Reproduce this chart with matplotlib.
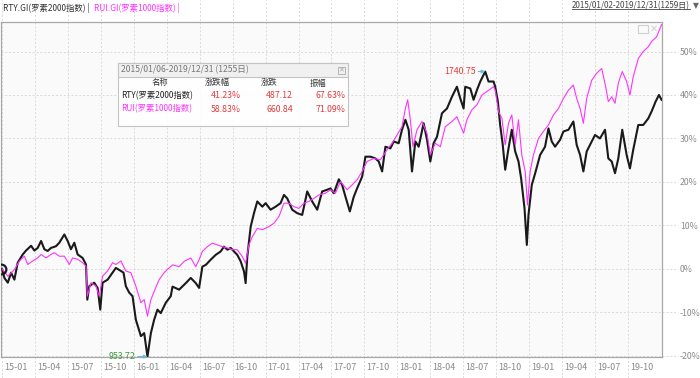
import numpy as np
import matplotlib.pyplot as plt
import matplotlib.transforms as mtransforms
from matplotlib.patches import Rectangle
from matplotlib.lines import Line2D

plt.rcParams['font.family'] = ['Noto Sans CJK SC', 'DejaVu Sans']

# x = months since 2015-01, y = % change since first close
rty_t = [0.00, 0.21, 0.52, 0.82, 1.12, 1.42, 1.88, 2.18, 2.64, 2.94,
         3.24, 3.55, 3.85, 4.15, 4.45, 4.91, 5.21, 5.67, 5.97, 6.27,
         6.58, 6.88, 7.33, 7.64, 7.76, 7.94, 8.39, 8.70, 8.94, 9.15,
         9.61, 10.06, 10.36, 10.82, 11.06, 11.27, 11.58, 11.88, 12.18, 12.64,
         12.94, 13.24, 13.55, 13.85, 14.15, 14.45, 14.91, 15.36,
         15.52, 16.12, 16.73, 17.18, 17.64, 17.94, 18.24, 18.55, 19.00, 19.45,
         19.91, 20.21, 20.52, 20.82, 21.12, 21.42, 21.73, 22.03, 22.18, 22.33,
         22.64, 22.94, 23.24, 23.70, 24.00, 24.45, 24.91, 25.36, 25.67, 25.97,
         26.42, 26.88, 27.33, 27.79, 28.24, 28.70, 29.15, 29.61,
         29.91, 30.21, 30.67, 30.97, 31.27, 31.67, 32.03, 32.33, 32.79, 33.09,
         33.55, 34.00, 34.30, 34.61, 34.91, 35.36, 35.67, 36.12, 36.42, 36.73,
         37.03, 37.33, 37.64, 37.94, 38.39, 38.70, 39.00, 39.30, 39.61, 40.06,
         40.52, 40.97, 41.42, 41.73, 42.03, 42.18, 42.64, 42.94, 43.24, 43.55,
         44.00, 44.30, 44.76,
         44.91, 45.15, 45.36, 45.58, 45.82, 46.12, 46.42, 46.73, 47.03, 47.27,
         47.58, 47.79, 47.94, 48.24, 48.55, 49.00, 49.45, 49.76, 50.06, 50.36,
         50.82, 51.12, 51.58, 52.03, 52.33, 52.64, 52.94, 53.24, 53.70, 54.00,
         54.45, 54.91, 55.21, 55.52, 55.82, 56.12, 56.48, 56.88, 57.18, 57.48,
         57.94, 58.39, 58.85, 59.15, 59.52, 59.82, 60.06]
rty_pct = [0.0, -2.1, -3.2, -0.9, -2.5, 1.4, 3.3, 4.2, 5.3, 4.2,
           4.8, 6.4, 4.5, 4.1, 4.8, 5.2, 6.0, 7.9, 6.4, 4.5,
           6.0, 3.3, 2.5, 1.0, -7.1, -4.0, -3.2, -4.4, -9.4, -3.2,
           -2.5, -0.9, 0.2, -0.5, -0.9, -4.0, -5.5, -6.3, -11.7, -15.5,
           -14.8, -20.2, -14.8, -11.7, -9.4, -10.2, -7.8, -6.3,
           -4.1, -4.8, -3.3, -2.1, -3.3, -4.4, 0.5, 0.9, 2.1, 3.2,
           4.0, 5.1, 4.4, 4.8, 4.0, 3.2, 1.7, -0.6, -3.3, 2.8,
           9.7, 12.8, 15.5, 14.3, 15.1, 13.6, 14.3, 15.1, 17.0, 16.2,
           13.6, 12.8, 12.4, 17.8, 15.5, 13.6, 17.8, 18.2,
           18.5, 17.4, 20.6, 19.3, 16.6, 13.2, 16.6, 18.5, 21.2, 25.8,
           25.8, 25.4, 24.7, 22.4, 28.1, 27.7, 29.3, 28.9, 32.0, 34.3,
           32.0, 22.4, 29.3, 28.1, 33.5, 29.7, 24.7, 28.9, 30.4, 35.8,
           36.9, 39.6, 41.9, 39.2, 36.9, 41.9, 41.5, 38.9, 41.1, 43.1,
           45.4, 43.1, 43.1,
           41.9, 38.5, 33.1, 28.9, 22.8, 27.7, 32.0, 27.0, 24.7, 20.8,
           13.9, 5.5, 12.4, 19.3, 22.0, 26.2, 28.1, 32.3, 29.3, 28.1,
           29.7, 31.6, 32.0, 33.9, 28.5, 26.2, 22.4, 27.0, 29.3, 30.8,
           30.0, 32.0, 25.4, 24.7, 22.0, 25.4, 32.0, 26.2, 23.1, 27.4,
           33.1, 33.1, 34.6, 36.2, 38.5, 40.0, 38.9]

rui_t = [0.00, 0.52, 1.12, 1.58, 2.03, 2.33, 2.79, 3.24, 3.55, 4.00,
         4.45, 4.76, 5.21, 5.67, 6.12, 6.42, 6.88, 7.33, 7.64, 7.76,
         8.09, 8.55, 8.85, 9.15, 9.61, 10.06, 10.36, 10.82, 11.27, 11.73,
         12.18, 12.64, 12.94, 13.24, 13.55, 13.85, 14.30, 14.76, 15.21,
         15.52, 16.12, 16.58, 17.18, 17.64, 17.94, 18.24, 18.70, 19.15, 19.61,
         20.06, 20.52, 20.97, 21.42, 21.88, 22.18, 22.48, 22.79, 23.24, 23.70,
         24.30, 24.76, 25.21, 25.67, 26.12, 26.58, 27.03, 27.48, 27.94, 28.39,
         28.85, 29.45,
         29.91, 30.36, 30.82, 31.42, 31.88, 32.33, 32.79, 33.24, 33.85, 34.45,
         35.06, 35.52, 35.97, 36.42, 36.73, 36.94, 37.18, 37.42, 37.79, 38.24,
         38.70, 39.00, 39.45, 39.91, 40.36, 40.97, 41.42, 42.03, 42.33, 42.79,
         43.24, 43.70, 44.15, 44.76,
         44.91, 45.21, 45.52, 45.82, 46.12, 46.42, 46.73, 47.03, 47.33, 47.64,
         47.85, 48.09, 48.39, 48.85, 49.30, 49.76, 50.21, 50.67, 51.12, 51.58,
         52.03, 52.33, 52.64, 52.94, 53.24, 53.70, 54.15, 54.61, 54.97, 55.21,
         55.52, 55.82, 56.12, 56.48, 56.88, 57.18, 57.48, 57.94, 58.39, 58.85,
         59.15, 59.61, 59.91, 60.06]
rui_pct = [0.0, -1.7, -0.2, 1.8, 2.9, 1.0, 1.8, 2.5, 3.3, 2.5,
           3.3, 3.7, 2.9, 2.9, 1.0, 2.5, 2.2, 1.4, 0.6, -6.3,
           -3.2, -4.0, -6.3, -1.7, -0.5, 1.4, 1.0, 1.8, -0.5, -0.9,
           -4.0, -7.8, -7.1, -10.9, -7.1, -5.2, -2.5, -0.9, 0.2,
           0.9, 0.5, 1.7, 2.5, 0.5, 2.1, 4.0, 5.1, 5.9, 5.5,
           5.1, 4.8, 4.4, 4.4, 2.8, 1.3, 5.5, 7.4, 9.3, 9.0,
           9.7, 10.5, 12.0, 15.1, 15.1, 14.3, 13.9, 15.1, 15.5, 16.2,
           17.0, 17.4,
           18.2, 17.4, 20.1, 18.2, 19.3, 20.5, 22.4, 24.7, 25.4, 25.1,
           27.4, 28.9, 30.8, 32.7, 36.9, 38.9, 34.3, 28.1, 32.0, 33.9,
           31.2, 26.2, 28.9, 28.1, 32.7, 33.9, 35.0, 31.2, 34.3, 36.6,
           37.7, 40.0, 40.8, 41.9,
           41.1, 36.2, 34.6, 28.5, 33.5, 35.4, 28.5, 34.3, 26.2, 22.4,
           14.7, 22.4, 26.2, 30.0, 31.6, 33.1, 35.4, 36.9, 39.2, 41.1,
           42.3, 39.2, 36.9, 33.5, 39.2, 43.4, 45.0, 46.1, 41.9, 38.5,
           39.6, 38.1, 42.7, 45.4, 43.1, 40.0, 44.2, 48.4, 50.0, 51.1,
           52.3, 53.4, 55.3, 56.2]

tick_months = [0, 3, 6, 9, 12, 15, 18, 21, 24, 27, 30, 33, 36, 39, 42, 45, 48, 51, 54, 57]
tick_labels = ['15-01', '15-04', '15-07', '15-10', '16-01', '16-04', '16-07', '16-10',
               '17-01', '17-04', '17-07', '17-10', '18-01', '18-04', '18-07', '18-10',
               '19-01', '19-04', '19-07', '19-10']
pct_ticks = [-20, -10, 0, 10, 20, 30, 40, 50]

rty_high, rty_low = '1740.75', '953.72'
table_period = '2015/01/06-2019/12/31 (1255日)'
table_cols = ['名称', '涨跌幅', '涨跌', '振幅']
table_rows = [['RTY(罗素2000指数)', '41.23%', '487.12', '67.63%'],
              ['RUI(罗素1000指数)', '58.83%', '660.84', '71.09%']]

W, H = 700, 378
fig = plt.figure(figsize=(7, 3.78), dpi=100)


def fx(x):
    return x / W


def fy(y):
    return 1 - y / H


ax = fig.add_axes([fx(1), fy(357), 661 / W, 335 / H])
ax.set_facecolor('#fafafa')
ax.set_xlim(-0.1, 60.1)
ax.set_ylim(-20.3, 56.8)

grid_kw = dict(color='#d9d9d9', lw=0.7, ls=(0, (2, 2)), zorder=0, clip_on=False)
for m in tick_months:
    ax.axvline(m, ymin=-21 / 335, ymax=1 + 22 / 335, **grid_kw)
for p in pct_ticks:
    ax.axhline(p, xmin=0, xmax=1 + 16 / 661, **grid_kw)

ax.plot(rty_t, rty_pct, color='#1a1a1a', lw=1.5, zorder=3)
ax.plot(rui_t, rui_pct, color='#ff33ff', lw=0.8, zorder=4)
ax.plot(-0.1, 0, 'o', mfc='none', mec='#1a1a1a', mew=1.6, ms=7, zorder=5)

ax.set_xticks(tick_months, tick_labels)
ax.tick_params(axis='x', length=0, pad=4, labelsize=6.5, labelcolor='#8a8a8a')
shift = mtransforms.ScaledTranslation(2 / 100, 0, fig.dpi_scale_trans)
for lab in ax.get_xticklabels():
    lab.set_ha('left')
    lab.set_transform(lab.get_transform() + shift)

ax.yaxis.tick_right()
ax.set_yticks(pct_ticks, [f'{p}%' for p in pct_ticks])
ax.tick_params(axis='y', length=0, pad=13, labelsize=6.3, labelcolor='#8a8a8a')
for s in ax.spines.values():
    s.set_color('#a8a8a8')
    s.set_linewidth(0.9)

# high / low marks
imax = int(np.argmax(rty_pct))
imin = int(np.argmin(rty_pct))
arrow = dict(arrowstyle='-|>', color='#5bc0de', lw=0.8, shrinkA=0, shrinkB=0,
             mutation_scale=5)
ax.annotate(rty_high, xy=(rty_t[imax], rty_pct[imax]), xytext=(-7, 0),
            textcoords='offset points', ha='right', va='center', fontsize=6.3,
            color='#e03c3c', arrowprops=arrow, annotation_clip=False, zorder=6)
ax.annotate(rty_low, xy=(rty_t[imin], rty_pct[imin]), xytext=(-9, 0),
            textcoords='offset points', ha='right', va='center', fontsize=6.3,
            color='#3a9d3a', arrowprops=arrow, annotation_clip=False, zorder=6)

# header
t1 = fig.text(fx(3), fy(8), 'RTY.GI(罗素2000指数) |', color='#333333', fontsize=6, va='center')
rt = fig.text(fx(690), fy(6), '2015/01/02-2019/12/31(1259日)', color='#444444',
              fontsize=5.8, va='center', ha='right')
fig.text(fx(696), fy(6), '▼', color='#666666', fontsize=5.5, va='center', ha='center',
         family='DejaVu Sans')
fig.canvas.draw()
inv = fig.transFigure.inverted()
b1 = t1.get_window_extent().transformed(inv)
fig.text(b1.x1 + fx(4), fy(8), 'RUI.GI(罗素1000指数) |', color='#ff33ff', fontsize=6, va='center')
bb = rt.get_window_extent().transformed(inv)
fig.add_artist(Line2D([bb.x0, bb.x1], [bb.y0 + 0.005, bb.y0 + 0.005], color='#444444', lw=0.6))

# window icons at top right
fig.add_artist(Rectangle((fx(638), fy(33)), 10 / W, 8 / H, transform=fig.transFigure,
                         fill=False, ec='#cfcfcf', lw=0.8, zorder=6))
fig.text(fx(654), fy(29), '✕', color='#cfcfcf', fontsize=7, ha='center', va='center',
         family='DejaVu Sans')

# stats box
fig.add_artist(Rectangle((fx(118), fy(126)), 230 / W, 63 / H, transform=fig.transFigure,
                         fc=(1, 1, 1, 0.9), ec='#c4c4c4', lw=0.8, zorder=10))
fig.add_artist(Rectangle((fx(118), fy(77)), 230 / W, 14 / H, transform=fig.transFigure,
                         fc='#f0f0f0', ec='#c4c4c4', lw=0.8, zorder=10))
fig.text(fx(121), fy(70), table_period, color='#777777', fontsize=6.2, va='center', zorder=11)
fig.add_artist(Rectangle((fx(338), fy(74)), 7 / W, 7 / H, transform=fig.transFigure,
                         fill=False, ec='#aaaaaa', lw=0.6, zorder=11))
fig.text(fx(341.5), fy(70.5), '✕', color='#aaaaaa', fontsize=5, ha='center', va='center',
         family='DejaVu Sans', zorder=11)

col_x = [160, 217, 269, 318]
for cx, c in zip(col_x, table_cols):
    fig.text(fx(cx), fy(83), c, color='#333333', fontsize=6, ha='center', va='center', zorder=11)
row_y = [96, 109]
name_colors = ['#222222', '#ff33ff']
val_x = [241, 293, 345]
for ry, row, nc in zip(row_y, table_rows, name_colors):
    fig.text(fx(121), fy(ry), row[0], color=nc, fontsize=6, va='center', zorder=11)
    for vx, v in zip(val_x, row[1:]):
        fig.text(fx(vx), fy(ry), v, color='#e03c3c', fontsize=6.3, ha='right', va='center', zorder=11)

fig.savefig('out.png', dpi=100)
